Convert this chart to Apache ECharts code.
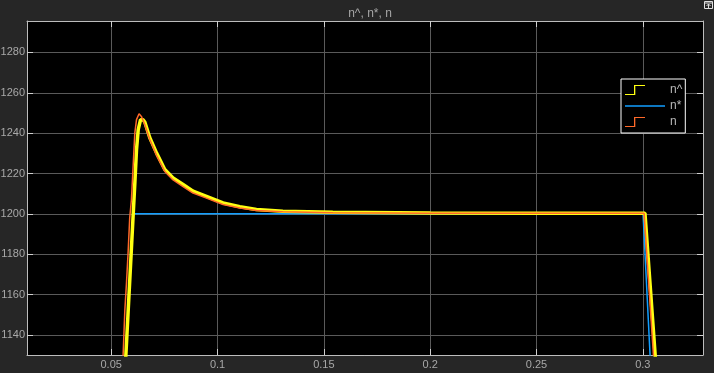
<!DOCTYPE html>
<html>
<head>
<meta charset="utf-8">
<script src="https://cdn.jsdelivr.net/npm/echarts@6/dist/echarts.min.js"></script>
<style>
html,body{margin:0;padding:0;background:#262626;}
#c{width:714px;height:373px;}
</style>
</head>
<body>
<div id="c"></div>
<script>
// ---- data ----
const titleText = 'n^, n*, n';
const seriesNames = ['n^', 'n*', 'n'];
const xTicks = [0.05, 0.1, 0.15, 0.2, 0.25, 0.3];
const yTicks = [1140, 1160, 1180, 1200, 1220, 1240, 1260, 1280];

// n^ (estimated speed)
const nHatT = [0.0560, 0.0569, 0.0603, 0.0611, 0.0619, 0.0627, 0.0638, 0.0645, 0.0650, 0.0658, 0.0681, 0.0713, 0.0752, 0.0791, 0.0838, 0.0885, 0.0948, 0.1026, 0.1105, 0.1183, 0.1307, 0.1542, 0.2000, 0.2500, 0.3010, 0.3058, 0.3065];
const nHatV = [1110, 1130, 1199, 1215, 1231.8, 1241.7, 1246.7, 1247.5, 1246.6, 1245.5, 1237.8, 1230.2, 1222.0, 1217.8, 1214.5, 1211.2, 1208.7, 1205.4, 1203.5, 1202.1, 1201.3, 1200.8, 1200.4, 1200.3, 1200.3, 1130, 1120];

// n* (reference speed)
const nRefT = [0.0562, 0.0569, 0.0602, 0.3001, 0.3034, 0.3040];
const nRefV = [1115, 1130, 1200, 1200, 1130, 1118];

// n (actual speed)
const nT = [0.0550, 0.0556, 0.0564, 0.0572, 0.0580, 0.0587, 0.0595, 0.0603, 0.0611, 0.0619, 0.0631, 0.0642, 0.0658, 0.0681, 0.0713, 0.0752, 0.0791, 0.0838, 0.0885, 0.0948, 0.1026, 0.1105, 0.1183, 0.1307, 0.1542, 0.2000, 0.3006, 0.3050, 0.3056];
const nV = [1118, 1130, 1152, 1166, 1182, 1198, 1207, 1223.5, 1240, 1246.7, 1249.6, 1248.3, 1244.2, 1237, 1229, 1221, 1216.8, 1213.5, 1210.3, 1207.8, 1204.6, 1202.9, 1201.7, 1201.0, 1200.5, 1200.3, 1200.3, 1130, 1120];

const xMin = 0.0104, xMax = 0.3283;
const yMin = 1130, yMax = 1295.6;

// ---- build ----
const zip = (t, v) => t.map((x, i) => [x, v[i]]);
const FONT = '"Liberation Sans", Arial, sans-serif';
const stepIcon = 'path://M0,10.6 L9,10.6 L9,0 L20,0 L20,1.3 L10.3,1.3 L10.3,11.9 L0,11.9 Z M39.95,0 L40,0 L40,0.05 Z';
const lineIcon = 'path://M0,5.0 L40,5.0 L40,6.9 L0,6.9 Z M0,0 L0.05,0 L0,0.05 Z M39.95,11.9 L40,11.9 L40,11.85 Z';

const axisLineStyle = { color: '#bdbdbd', width: 1 };
const tickStyle = { color: '#d0d0d0', width: 1 };
const plainNum = v => String(Math.round(v * 1000) / 1000);

const chart = echarts.init(document.getElementById('c'), null, { renderer: 'canvas' });
chart.setOption({
  backgroundColor: '#262626',
  animation: false,
  title: {
    text: titleText,
    left: 365, top: 3, textAlign: 'center',
    textStyle: { color: '#a6a6a6', fontSize: 12, fontWeight: 'normal', fontFamily: FONT }
  },
  grid: { left: 27, right: 11, top: 21, bottom: 18, show: true, backgroundColor: '#000', borderWidth: 0, containLabel: false, outerBoundsMode: 'none' },
  legend: {
    orient: 'vertical', left: 621, top: 79,
    padding: [5, 3, 5, 4],
    itemWidth: 40, itemHeight: 10, itemGap: 4,
    symbolKeepAspect: false,
    backgroundColor: '#000', borderColor: '#ffffff', borderWidth: 1, borderRadius: 0,
    textStyle: { color: '#b8b8b8', fontSize: 12, fontFamily: FONT },
    itemStyle: { borderWidth: 0 },
    data: [
      { name: seriesNames[0], icon: stepIcon },
      { name: seriesNames[1], icon: lineIcon },
      { name: seriesNames[2], icon: stepIcon }
    ]
  },
  xAxis: [{
    type: 'value', min: xMin, max: xMax, position: 'bottom',
    axisLine: { show: true, onZero: false, lineStyle: axisLineStyle },
    axisTick: { show: true, inside: true, length: 6, lineStyle: tickStyle, customValues: xTicks },
    axisLabel: { color: '#a8a8a8', fontSize: 11, fontFamily: FONT, margin: 4, customValues: xTicks, formatter: plainNum },
    splitLine: { show: true, lineStyle: { color: '#5a5a5a', width: 1 } }
  }, {
    type: 'value', min: xMin, max: xMax, position: 'top',
    axisLine: { show: true, onZero: false, lineStyle: axisLineStyle },
    axisTick: { show: true, inside: true, length: 6, lineStyle: tickStyle, customValues: xTicks },
    axisLabel: { show: false },
    splitLine: { show: false }
  }],
  yAxis: [{
    type: 'value', min: yMin, max: yMax, position: 'left',
    axisLine: { show: true, onZero: false, lineStyle: axisLineStyle },
    axisTick: { show: true, inside: true, length: 6, lineStyle: tickStyle, customValues: yTicks },
    axisLabel: { color: '#a8a8a8', fontSize: 11, fontFamily: FONT, margin: 2, customValues: yTicks, formatter: plainNum },
    splitLine: { show: true, lineStyle: { color: '#5a5a5a', width: 1 } }
  }, {
    type: 'value', min: yMin, max: yMax, position: 'right',
    axisLine: { show: true, onZero: false, lineStyle: axisLineStyle },
    axisTick: { show: true, inside: true, length: 6, lineStyle: tickStyle, customValues: yTicks },
    axisLabel: { show: false },
    splitLine: { show: false }
  }],
  series: [
    {
      name: seriesNames[0], type: 'line', data: zip(nHatT, nHatV),
      symbol: 'none', showSymbol: false, z: 3, clip: true,
      itemStyle: { color: '#ffff11' },
      lineStyle: { color: '#ffff11', width: 3.5 }
    },
    {
      name: seriesNames[1], type: 'line', data: zip(nRefT, nRefV),
      symbol: 'none', showSymbol: false, z: 2, clip: true,
      itemStyle: { color: '#129fff' },
      lineStyle: { color: '#129fff', width: 1.5 }
    },
    {
      name: seriesNames[2], type: 'line', data: zip(nT, nV),
      symbol: 'none', showSymbol: false, z: 4, clip: true,
      itemStyle: { color: '#ff6929' },
      lineStyle: { color: '#ff6929', width: 1.5 }
    }
  ],
  graphic: [
    { type: 'rect', shape: { x: 704.5, y: 1.5, width: 8, height: 7 }, style: { fill: '#262626', stroke: '#e0e0e0', lineWidth: 1 } },
    { type: 'line', shape: { x1: 704.5, y1: 3, x2: 712.5, y2: 3 }, style: { stroke: '#e0e0e0', lineWidth: 1 } },
    { type: 'polyline', shape: { points: [[706.5, 6], [708.5, 4], [710.5, 6]] }, style: { stroke: '#e0e0e0', lineWidth: 1, fill: null } },
    { type: 'line', shape: { x1: 708.5, y1: 4, x2: 708.5, y2: 8.5 }, style: { stroke: '#e0e0e0', lineWidth: 1 } }
  ]
});
</script>
</body>
</html>
